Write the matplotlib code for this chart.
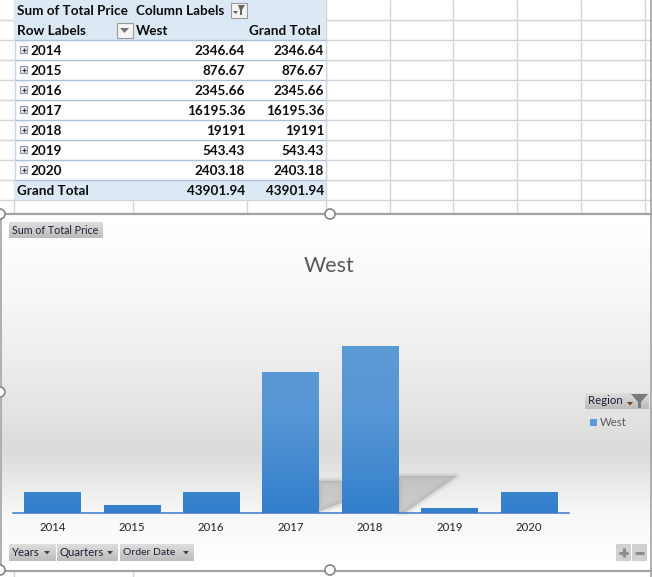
# plot.py
import numpy as np
import matplotlib
matplotlib.use('Agg')
import matplotlib.pyplot as plt
import matplotlib.patches as patches

years = ['2014', '2015', '2016', '2017', '2018', '2019', '2020']
west_values = [2346.64, 876.67, 2345.66, 16195.36, 19191, 543.43, 2403.18]
west_labels = ['2346.64', '876.67', '2345.66', '16195.36', '19191', '543.43', '2403.18']
grand_total_label = '43901.94'

W, H = 652, 577
plt.rcParams['font.family'] = ['Lato', 'DejaVu Sans']

fig = plt.figure(figsize=(W / 100, H / 100), dpi=100)


def px_axes(z):
    a = fig.add_axes([0, 0, 1, 1], zorder=z)
    a.set_xlim(0, W)
    a.set_ylim(H, 0)
    a.axis('off')
    a.patch.set_alpha(0)
    return a


bg = px_axes(0)
fg = px_axes(2)


def hline(ax, y, x1, x2, color, lw=1.0, z=2):
    ax.plot([x1, x2], [y, y], color=color, lw=lw, solid_capstyle='butt', zorder=z)


def vline(ax, x, y1, y2, color, lw=1.0, z=2):
    ax.plot([x, x], [y1, y2], color=color, lw=lw, solid_capstyle='butt', zorder=z)


cmap_button = matplotlib.colors.LinearSegmentedColormap.from_list('btn', ['#dedede', '#bcbcbc'])


def button(ax, x, y, w, h, label, size=8.2, pad=3):
    grad = np.linspace(0, 1, 20).reshape(-1, 1)
    ax.imshow(grad, extent=(x, x + w, y + h, y), aspect='auto', cmap=cmap_button, zorder=3)
    ax.text(x + pad, y + h / 2, label, fontsize=size, color='#1c2233', va='center', ha='left', zorder=4)


# worksheet grid
grid = '#d4d4d4'
for y in range(20, 220, 20):
    hline(bg, y - 0.5, 0, W, grid, z=1)
for x in [14, 133, 247, 326, 390, 453, 517, 581, 645]:
    vline(bg, x, 0, 213, grid, z=1)
vline(bg, 14, 571, H, grid, z=1)
vline(bg, 133, 571, H, grid, z=1)

# pivot table
bg.add_patch(patches.Rectangle((14, 0), 312, 39.5, fc='#dce9f5', ec='none', zorder=2))
bg.add_patch(patches.Rectangle((14, 180), 312, 20, fc='#dce9f5', ec='none', zorder=2))
bg.add_patch(patches.Rectangle((14, 40), 312, 140, fc='white', ec='none', zorder=2))
for i in range(8):
    hline(bg, 39.5 + 20 * i + (0.5 if i else 0), 14, 326, '#a9c0dc', 1.0)
vline(bg, 14.5, 40, 180, '#c5d6ea')
vline(bg, 326, 40, 180, '#c5d6ea')

tsize = 9.7
tc = '#0c0c0c'
bold = dict(fontsize=tsize, fontweight='bold', color=tc, va='center', zorder=3)
bg.text(17, 11, 'Sum of Total Price', **bold)
bg.text(136, 11, 'Column Labels', **bold)
bg.text(17, 31, 'Row Labels', **bold)
bg.text(136, 31, 'West', **bold)
bg.text(321, 31, 'Grand Total', ha='right', **bold)

for i in range(len(years)):
    y = 51 + 20 * i
    bg.add_patch(patches.Rectangle((20, y - 5), 7, 7, fc='#e8ecf4', ec='#8a94a6', lw=0.8, zorder=3))
    hline(bg, y - 1.5, 21.5, 25.5, '#333344', 0.8, z=4)
    vline(bg, 23.5, y - 3.5, y + 0.5, '#333344', 0.8, z=4)
    bg.text(30, y, years[i], **bold)
    bg.text(245, y, west_labels[i], ha='right', **bold)
    bg.text(324, y, west_labels[i], ha='right', **bold)

bg.text(17, 191, 'Grand Total', **bold)
bg.text(245, 191, grand_total_label, ha='right', **bold)
bg.text(324, 191, grand_total_label, ha='right', **bold)

# filter buttons in the table header
for x, y in [(230, 2), (116, 22)]:
    bg.add_patch(patches.Rectangle((x + 0.5, y + 0.5), 16, 15.5, fc='#f4f4f4', ec='#9a9a9a', lw=0.8, zorder=3))
bg.add_patch(patches.Polygon([(120, 28), (129, 28), (124.5, 33)], fc='#777777', ec='none', zorder=4))
bg.add_patch(patches.Polygon([(238, 5), (245, 5), (242, 10), (242, 15), (240, 15), (240, 10)], fc='#666666', ec='none', zorder=4))
bg.add_patch(patches.Polygon([(233, 11), (238, 11), (235.5, 14)], fc='#666666', ec='none', zorder=4))

# chart area background
stops = [(214, 1.0), (300, 0.965), (400, 0.90), (450, 0.855), (475, 0.90), (515, 0.97), (570, 1.0)]
yy = np.arange(214, 571)
shade = np.interp(yy, [s[0] for s in stops], [s[1] for s in stops]).reshape(-1, 1)
bg.imshow(shade, extent=(1, 651, 571, 214), aspect='auto', cmap='gray', vmin=0, vmax=1, zorder=2.5)
bg.set_xlim(0, W)
bg.set_ylim(H, 0)

# bar shadows
for pts in [[(319, 481), (343, 481), (343, 502), (319, 511)],
            [(399, 476), (456, 476), (405, 512), (399, 512)]]:
    for grow, alpha in [(6, 0.08), (4, 0.12), (2, 0.18), (0.5, 0.3)]:
        bg.add_patch(patches.Polygon(pts, fc='#a6a8aa', ec='#a6a8aa', lw=grow, alpha=alpha, zorder=2.7, joinstyle='round'))

# chart
ax = fig.add_axes([12.6 / W, 1 - 512.5 / H, 556 / W, 173.5 / H], zorder=1)
ax.patch.set_alpha(0)
bars = ax.bar(years, west_values, width=0.71, color='#5b9bd5', linewidth=0)
for s in ['top', 'left', 'right']:
    ax.spines[s].set_visible(False)
ax.spines['bottom'].set_color('#3a78c8')
ax.spines['bottom'].set_linewidth(1.1)
ax.set_yticks([])
ax.tick_params(axis='x', length=0, pad=7, labelsize=8.2, labelcolor='#222222')

bar_cmap = matplotlib.colors.LinearSegmentedColormap.from_list(
    'bar', [(0, '#5b9bd5'), (0.45, '#5596d4'), (1, '#337fcc')])
for b in bars:
    grad = np.linspace(1 - b.get_height() / 20000, 1, 50).reshape(-1, 1)
    im = ax.imshow(grad, extent=(b.get_x(), b.get_x() + b.get_width(), 0, b.get_height()),
                   aspect='auto', cmap=bar_cmap, vmin=0, vmax=1, zorder=2)
    im.set_clip_path(b)
ax.set_xlim(-0.5, 6.5)
ax.set_ylim(0, 20000)

fg.text(329, 265.5, 'West', fontsize=15.5, color='#595959', ha='center', va='center')

# chart field buttons
button(fg, 9, 222, 94, 16, 'Sum of Total Price', size=7.7)
button(fg, 9, 544, 47, 17, 'Years')
button(fg, 57, 544, 61, 17, 'Quarters')
button(fg, 120, 544, 74, 17, 'Order Date', size=7.5)
for x in [47, 110, 186]:
    fg.add_patch(patches.Polygon([(x - 3, 551), (x + 3, 551), (x, 554.5)], fc='#444444', ec='none', zorder=5))

# legend field
button(fg, 585, 393, 64, 16, 'Region')
fg.add_patch(patches.Polygon([(627, 402), (633, 402), (630, 405.5)], fc='#7a3b10', ec='none', zorder=5))
fg.add_patch(patches.Polygon([(631, 394), (648, 394), (641, 402), (641, 408), (638, 408), (638, 402)],
                             fc='#7a7a7a', ec='none', zorder=5))
fg.add_patch(patches.Rectangle((590, 419), 6.5, 6.5, fc='#5b9bd5', ec='none'))
fg.text(600, 422, 'West', fontsize=8.2, color='#595959', va='center')

# zoom buttons
for x in [616, 632]:
    fg.add_patch(patches.Rectangle((x, 544), 15, 17, fc='#d0d0d0', ec='none'))
    hline(fg, 552.5, x + 3, x + 12, '#8c8c8c', 2.2)
vline(fg, 623.5, 548, 557, '#8c8c8c', 2.2)

# chart frame and handles
hline(fg, 212.5, 0, W, '#dcdcdc', 1.0)
hline(fg, 214, 0, W, '#a3a3a3', 1.6)
hline(fg, 571, 0, W, '#a3a3a3', 1.6)
vline(fg, 0.7, 213, 571, '#a3a3a3', 1.2)
vline(fg, 651.2, 0, H, '#a3a3a3', 1.2)
for cx, cy in [(0, 214), (330, 214), (0, 392), (0, 570), (330, 570)]:
    fg.add_patch(patches.Ellipse((cx, cy), 10, 10, fc='white', ec='#8c8c8c', lw=1.3, zorder=6))

fig.savefig('out.png', dpi=100)
